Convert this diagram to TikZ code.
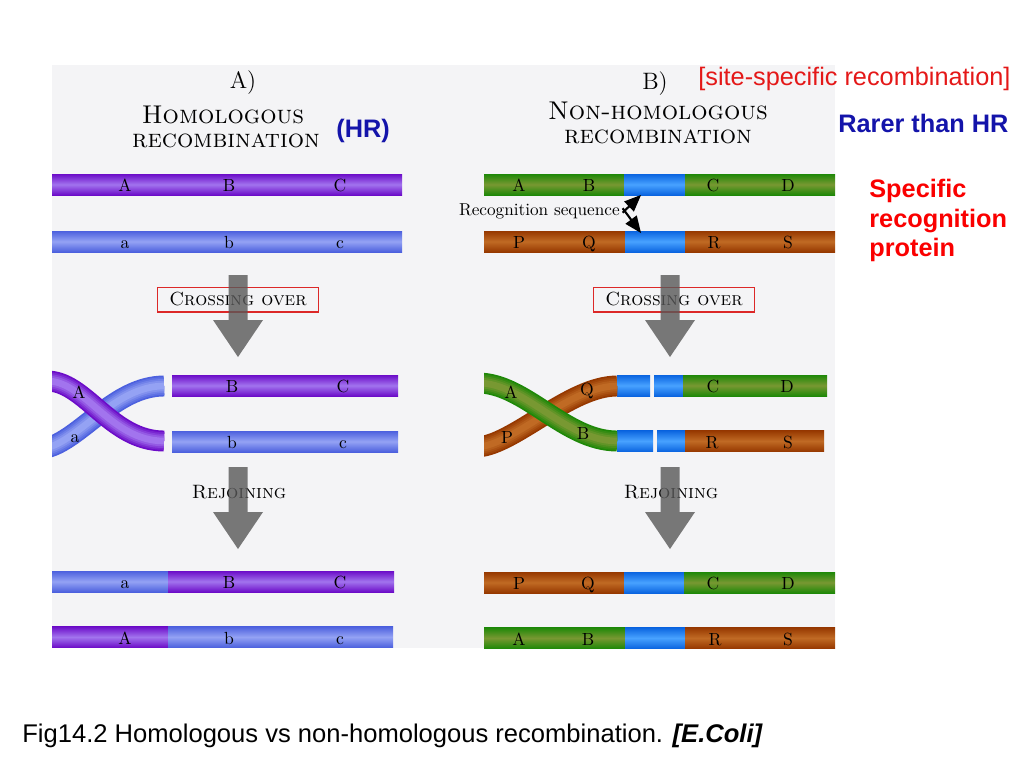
\documentclass[tikz,border=0pt]{standalone}
\usepackage{fontspec}
\setsansfont{Liberation Sans}
\usetikzlibrary{arrows}
\definecolor{panel}{RGB}{244,244,246}
\definecolor{purpD}{RGB}{108,12,200}
\definecolor{purpL}{RGB}{162,116,238}
\definecolor{blueD}{RGB}{76,96,222}
\definecolor{blueL}{RGB}{148,162,244}
\definecolor{grnD}{RGB}{30,136,8}
\definecolor{grnL}{RGB}{120,152,50}
\definecolor{brnD}{RGB}{150,56,0}
\definecolor{brnL}{RGB}{192,106,36}
\definecolor{recD}{RGB}{10,100,224}
\definecolor{recL}{RGB}{72,162,255}
\definecolor{boxred}{RGB}{220,40,40}
\definecolor{notered}{RGB}{228,24,24}
\definecolor{notered2}{RGB}{250,0,0}
\definecolor{noteblue}{RGB}{20,20,170}
\definecolor{arrgray}{RGB}{88,88,88}
\tikzset{
  seg/.style 2 args={top color=#1, bottom color=#1, middle color=#2},
  rope/.style 2 args={draw=#1, line width=11.9pt,
    postaction={draw=#1!75!#2, line width=10pt},
    postaction={draw=#1!50!#2, line width=8pt},
    postaction={draw=#1!25!#2, line width=6pt},
    postaction={draw=#2, line width=3.8pt}},
  lab/.style={font=\fontsize{10}{12}\selectfont, inner sep=0pt, anchor=base},
  heading/.style={font=\fontsize{14.6}{17}\selectfont, inner sep=0pt, anchor=base},
  stepbox/.style={draw=boxred, line width=0.6pt, minimum width=91.3pt, minimum height=14.2pt,
    inner sep=0pt, font=\fontsize{10.8}{12}\selectfont},
  note/.style={font=\sffamily\fontsize{14.4}{17}\selectfont, inner sep=0pt, anchor=base west},
}
\begin{document}
\begin{tikzpicture}[x=0.02cm,y=-0.02cm]
\useasboundingbox (0,0) rectangle (1024,768);
\fill[panel] (52,65) rectangle (835,648);
% straight chromosome pieces
\foreach \xa/\xb/\yc/\cd/\cl in {
  52/402/184.5/purpD/purpL, 52/402/241.5/blueD/blueL,
  172/398/385.5/purpD/purpL, 172/398/441.5/blueD/blueL,
  52/168/581.5/blueD/blueL, 168/394/581.5/purpD/purpL,
  52/168/637/purpD/purpL, 168/393/637/blueD/blueL,
  484/624/184.5/grnD/grnL, 624/685/184.5/recD/recL, 685/835/184.5/grnD/grnL,
  484/625/241.5/brnD/brnL, 625/685/241.5/recD/recL, 685/835/241.5/brnD/brnL,
  617/650/385.5/recD/recL, 654/683/385.5/recD/recL, 683/827/385.5/grnD/grnL,
  617/653/441/recD/recL, 657/685/441/recD/recL, 685/824/441/brnD/brnL,
  484/624/582.5/brnD/brnL, 624/684/582.5/recD/recL, 684/835/582.5/grnD/grnL,
  484/625/638/grnD/grnL, 625/685/638/recD/recL, 685/835/638/brnD/brnL}
  \shade[seg={\cd}{\cl}] (\xa,\yc-10.5) rectangle (\xb,\yc+10.5);
% crossed strands
\begin{scope}
\clip (52,300) rectangle (170,500);
\draw[rope={blueD}{blueL}] (46,448) .. controls (80,440) and (115,386) .. (164,386);
\draw[rope={purpD}{purpL}] (46,381) .. controls (85,380) and (110,441) .. (164,441);
\end{scope}
\begin{scope}
\clip (484,300) rectangle (617,500);
\draw[rope={brnD}{brnL}] (478,447) .. controls (515,444) and (570,386) .. (617,386);
\draw[rope={grnD}{grnL}] (478,383) .. controls (525,383) and (565,441) .. (617,441);
\end{scope}
% gene letters
\foreach \t/\x/\y [count=\i] in {
  A/125/191.5, B/229/191.5, C/340/191.5, a/125/248.5, b/229/248.5, c/340/248.5,
  A/79/398, a/75/442.5, B/232/392.5, C/343/392.5, b/232/448.5, c/343/448.5,
  a/125/588.5, B/229/588.5, C/340/588.5, A/125/644, b/229/644, c/340/644,
  A/519/191.5, B/589/191.5, C/713/191.5, D/788/191.5,
  P/519/248.5, Q/589/248.5, R/714/248.5, S/788/248.5,
  A/511/398, Q/587/395, P/507/443, B/583/439,
  C/713/392.5, D/787/392.5, R/712/448, S/788/448,
  P/519/589.5, Q/588/589.5, C/713/589.5, D/788/589.5,
  A/519/645, B/588/645, R/715/645, S/788/645}
  \node[lab] (gene\i) at (\x,\y) {\t};
% headings
\node[heading, font=\fontsize{13.5}{15}\selectfont] (ttlA) at (243,88) {A)};
\node[heading] (homA) at (223,123) {\textsc{Homologous}};
\node[heading] (recA) at (226,147) {\textsc{recombination}};
\node[heading, font=\fontsize{13.5}{15}\selectfont] (ttlB) at (655,89) {B)};
\node[heading] (homB) at (658,119) {\textsc{Non-homologous}};
\node[heading] (recB) at (658,143) {\textsc{recombination}};
\node[stepbox] (crossA) at (238,299.5) {\textsc{Crossing over}};
\node[stepbox] (crossB) at (674,299.5) {\textsc{Crossing over}};
\node[heading, font=\fontsize{11}{13}\selectfont] (rejA) at (239,498) {\textsc{Rejoining}};
\node[heading, font=\fontsize{11}{13}\selectfont] (rejB) at (671,498) {\textsc{Rejoining}};
\foreach \cx/\ty in {238/275, 670/275, 238/467, 670/467}
  \fill[arrgray, opacity=0.8] (\cx-9.5,\ty) -- ++(19,0) -- ++(0,45) -- ++(15.5,0)
    -- (\cx,\ty+82) -- (\cx-25,\ty+45) -- ++(15.5,0) -- cycle;
% recognition sequence
\node[inner sep=0pt, anchor=base east, font=\fontsize{9.8}{11}\selectfont] (recseq) at (620,215) {Recognition sequence};
\coordinate (recU) at (641,195);
\coordinate (recL) at (641,233);
\draw[-triangle 45, line width=1.2pt] ([xshift=1.5pt,yshift=-1pt]recseq.east) -- (recU);
\draw[-triangle 45, line width=1.2pt] ([xshift=1.5pt,yshift=1.5pt]recseq.east) -- (recL);
% notes
\node[note, text=notered] (siteNote) at (698,85) {[site-specific recombination]};
\node[note, text=noteblue, font=\sffamily\bfseries\fontsize{14.4}{17}\selectfont] (rarer) at (838,132) {Rarer than HR};
\node[note, text=noteblue, font=\sffamily\bfseries\fontsize{14.4}{17}\selectfont] (hrTag) at (336,137) {(HR)};
\node[note, text=notered2, anchor=north west, align=left, font=\sffamily\bfseries\fontsize{14.4}{17}\selectfont] (protein) at (869,178.5) {Specific\\recognition\\protein};
\node[note, font=\sffamily\fontsize{14.55}{17}\selectfont] (caption) at (22,742) {Fig14.2 Homologous vs non-homologous recombination. \textbf{\textit{[E.Coli]}}};
\end{tikzpicture}
\end{document}
